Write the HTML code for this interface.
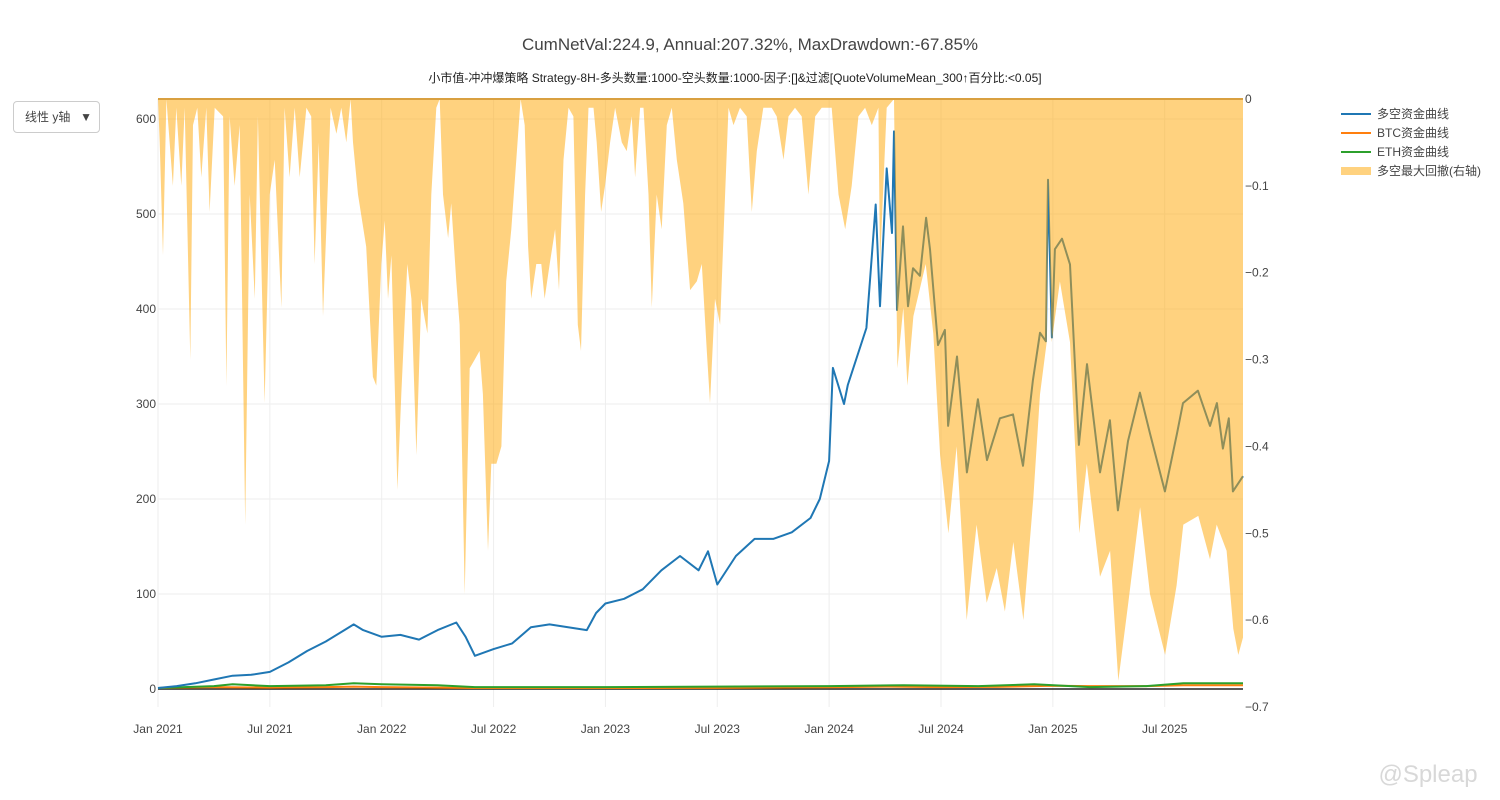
<!DOCTYPE html>
<html><head><meta charset="utf-8">
<style>
body{margin:0;background:#fff;font-family:"Liberation Sans","Noto Sans CJK SC",sans-serif;}
#wrap{position:relative;width:1500px;height:800px;overflow:hidden;}
svg{position:absolute;left:0;top:0;}
svg text{font-family:"Liberation Sans","Noto Sans CJK SC",sans-serif;}
</style></head><body>
<div id="wrap">
<svg id="chart" width="1500" height="800"></svg>
<div style="position:absolute;left:13px;top:101px;width:87px;height:32px;border:1px solid #ccc;border-radius:4px;font-size:12px;color:#444;box-sizing:border-box;line-height:30px;padding-left:11px;background:#fff;">线性 y轴<span style="position:absolute;right:7px;font-size:12px;">▼</span></div>
</div>
<script>
const netMonths=[0,1,2,3,4,5,6,7,8,9,10,10.5,11,12,13,14,15,16,16.5,17,18,19,20,21,22,23,23.5,24,25,26,27,28,29,29.5,30,31,32,33,34,35,35.5,36,36.2,36.8,37,38,38.5,38.73,39.09,39.37,39.48,39.64,39.96,40.23,40.5,40.87,41.2,41.41,41.84,42.21,42.38,42.86,43.39,43.98,44.47,45.16,45.86,46.4,46.93,47.31,47.63,47.74,47.95,48.11,48.49,48.92,49.4,49.83,50.53,51.06,51.49,52.03,52.67,53.21,54.01,54.66,54.98,55.78,56.43,56.8,57.12,57.44,57.66,58.2];
const netValues=[1,3,6,10,14,15,18,28,40,50,62,68,62,55,57,52,62,70,55,35,42,48,65,68,65,62,80,90,95,105,125,140,125,145,110,140,158,158,165,180,200,240,338,300,320,380,510,403,548,480,587,399,487,403,443,435,496,463,362,378,277,350,228,305,241,285,289,235,325,375,366,536,370,463,474,447,257,342,228,283,188,261,312,269,208,269,301,314,277,301,253,285,208,224];
const btcMonths=[0,3,6,9,10.5,12,15,17,20,24,30,36,39,42,45,47,48,50,53,55,58.2];
const btcValues=[1,2,1.5,2,2.5,2,1.5,1,1,1,1.2,1.8,2.5,2,2.2,3,3.5,3,3,4,4];
const ethMonths=[0,3,4,6,9,10.5,12,15,17,24,36,40,44,47,50,53,55,58.2];
const ethValues=[1,3,5,3,4,6,5,4,2,2,3,4,3,5,2,3,6,6];
const ddMonths=[0,0.09,0.27,0.45,0.8,0.98,1.25,1.43,1.73,1.88,2.11,2.32,2.59,2.77,3.04,3.49,3.67,3.84,4.11,4.38,4.68,4.92,5.19,5.36,5.72,5.99,6.26,6.62,6.79,7.06,7.33,7.6,7.96,8.22,8.4,8.62,8.85,9.03,9.26,9.57,9.83,10.1,10.33,10.46,10.73,11.17,11.53,11.71,11.98,12.16,12.34,12.52,12.84,13.05,13.37,13.59,13.86,14.12,14.45,14.66,14.93,15.11,15.29,15.56,15.73,16,16.18,16.45,16.72,16.99,17.25,17.43,17.7,17.88,18.15,18.42,18.68,18.95,19.22,19.45,19.67,19.85,20.02,20.29,20.56,20.74,21.01,21.3,21.51,21.75,22.02,22.28,22.52,22.69,22.91,23.09,23.36,23.53,23.77,23.98,24.25,24.52,24.88,25.14,25.41,25.59,25.86,26.04,26.31,26.49,26.75,27.02,27.29,27.56,27.83,28.18,28.54,28.9,29.17,29.44,29.61,29.88,30.15,30.42,30.6,30.87,31.22,31.58,31.85,32.12,32.47,32.92,33.19,33.55,33.82,34.17,34.53,34.89,35.25,35.6,36.14,36.5,36.86,37.21,37.57,37.93,38.29,38.64,38.73,39.09,39.48,39.66,39.98,40.2,40.52,41.18,41.59,41.95,42.4,42.84,43.38,43.91,44.45,44.99,45.43,45.88,46.42,46.95,47.31,47.67,47.76,47.94,48.38,48.92,49.42,49.82,50.53,51.07,51.51,52.05,52.68,53.21,54.02,54.64,55,55.8,56.43,56.79,57.32,57.68,57.95,58.2];
const ddValues=[0,-0.05,-0.18,0,-0.1,-0.01,-0.1,-0.01,-0.3,-0.03,-0.01,-0.09,-0.01,-0.13,-0.01,-0.02,-0.33,-0.02,-0.1,-0.03,-0.49,-0.11,-0.23,-0.02,-0.35,-0.11,-0.07,-0.24,-0.01,-0.09,-0.01,-0.09,-0.01,-0.02,-0.19,-0.05,-0.25,-0.15,-0.01,-0.04,-0.01,-0.05,0,-0.05,-0.11,-0.17,-0.32,-0.33,-0.19,-0.14,-0.23,-0.18,-0.45,-0.34,-0.19,-0.23,-0.41,-0.23,-0.27,-0.11,-0.01,0,-0.11,-0.16,-0.12,-0.21,-0.26,-0.57,-0.31,-0.3,-0.29,-0.34,-0.52,-0.42,-0.42,-0.4,-0.21,-0.15,-0.07,0,-0.03,-0.17,-0.23,-0.19,-0.19,-0.23,-0.19,-0.15,-0.22,-0.07,-0.01,-0.02,-0.26,-0.29,-0.11,-0.01,-0.01,-0.05,-0.13,-0.1,-0.05,-0.01,-0.05,-0.06,-0.02,-0.09,-0.01,-0.01,-0.11,-0.24,-0.11,-0.15,-0.03,-0.01,-0.07,-0.12,-0.22,-0.21,-0.19,-0.29,-0.35,-0.23,-0.26,-0.11,-0.01,-0.03,-0.01,-0.02,-0.13,-0.06,-0.01,-0.01,-0.02,-0.07,-0.02,-0.01,-0.02,-0.11,-0.02,-0.01,-0.01,-0.11,-0.15,-0.1,-0.02,-0.01,-0.03,-0.01,-0.19,-0.01,0,-0.31,-0.24,-0.33,-0.25,-0.19,-0.27,-0.41,-0.5,-0.4,-0.6,-0.49,-0.58,-0.54,-0.59,-0.51,-0.6,-0.46,-0.34,-0.28,-0.09,-0.28,-0.21,-0.28,-0.5,-0.42,-0.55,-0.52,-0.67,-0.58,-0.47,-0.57,-0.64,-0.56,-0.49,-0.48,-0.53,-0.49,-0.52,-0.61,-0.64,-0.62];
const leftTicks=[0,100,200,300,400,500,600];
const rightTicks=[0,-0.1,-0.2,-0.3,-0.4,-0.5,-0.6,-0.7];
const xTickLabels=["Jan 2021","Jul 2021","Jan 2022","Jul 2022","Jan 2023","Jul 2023","Jan 2024","Jul 2024","Jan 2025","Jul 2025"];
const xTickMonths=[0,6,12,18,24,30,36,42,48,54];

const NS="http://www.w3.org/2000/svg";
const svg=document.getElementById('chart');
const PL=158,PR=1243,PT=99,PB=707;
const xS=m=>PL+m*(PR-PL)/58.2;
const yL=v=>689-v*0.95;
const yR=v=>PT+(-v)*(PB-PT)/0.7;
function mk(tag,attrs,parent){const e=document.createElementNS(NS,tag);for(const k in attrs)e.setAttribute(k,attrs[k]);(parent||svg).appendChild(e);return e;}
function txt(x,y,s,size,anchor,fill){const t=mk('text',{x:x,y:y,'font-size':size,'text-anchor':anchor,fill:fill});t.textContent=s;return t;}

xTickMonths.forEach((m,i)=>{
  const g=mk('line',{x1:xS(m),x2:xS(m),y1:PT,y2:PB,stroke:'#eee'});
  
  
  const t=txt(xS(m),733,xTickLabels[i],12,'middle','#444');
  
  
});
leftTicks.forEach(v=>{
  const g=mk('line',{x1:PL,x2:PR,y1:yL(v),y2:yL(v),stroke:'#eee'});
  
  
  const t=txt(PL-2,yL(v)+4,String(v),12,'end','#444');
  
  
});
rightTicks.forEach(v=>{
  const t=txt(PR+2,yR(v)+4,v===0?'0':('−'+(-v).toFixed(1)),12,'start','#444');
  
  
});
function line(ms,vs,color,name){
  const d=ms.map((m,i)=>(i?'L':'M')+xS(m).toFixed(1)+','+yL(vs[i]).toFixed(1)).join('');
  const p=mk('path',{d:d,fill:'none',stroke:color,'stroke-width':2,'stroke-linejoin':'round'});
  
  
}
const base=mk('line',{x1:PL,x2:PR,y1:yL(0),y2:yL(0),stroke:'#222','stroke-width':1.5});


line(btcMonths,btcValues,'#ff7f0e','btc-line');
line(ethMonths,ethValues,'#2ca02c','eth-line');
line(netMonths,netValues,'#1f77b4','net-value-line');
let d='M'+xS(ddMonths[0])+','+yR(0);
ddMonths.forEach((m,i)=>{d+='L'+xS(m).toFixed(1)+','+yR(ddValues[i]).toFixed(1);});
d+='L'+xS(ddMonths[ddMonths.length-1])+','+yR(0)+'Z';
const area=mk('path',{d:d,fill:'rgba(255,165,0,0.5)',stroke:'none'});


const zeroLine=mk('line',{x1:PL,x2:PR,y1:PT,y2:PT,stroke:'#d9a040','stroke-width':2});



const t1=txt(750,50,'CumNetVal:224.9, Annual:207.32%, MaxDrawdown:-67.85%',17,'middle','#444');


const t2=txt(735,82,'小市值-冲冲爆策略 Strategy-8H-多头数量:1000-空头数量:1000-因子:[]&过滤[QuoteVolumeMean_300↑百分比:<0.05]',12,'middle','#222');



const legend=[['多空资金曲线','#1f77b4',2],['BTC资金曲线','#ff7f0e',2],['ETH资金曲线','#2ca02c',2],['多空最大回撤(右轴)','rgba(255,165,0,0.5)',8]];
legend.forEach((l,i)=>{
  const y=114+i*19;
  const g=mk('g',{});
  
  
  mk('line',{x1:1341,x2:1371,y1:y,y2:y,stroke:l[1],'stroke-width':l[2]},g);
  const t=mk('text',{x:1377,y:y+4,'font-size':12,fill:'#444'},g);t.textContent=l[0];
});
const wm=txt(1428,782,'@Spleap',24,'middle','#d8d8d8');


</script>
</body></html>
